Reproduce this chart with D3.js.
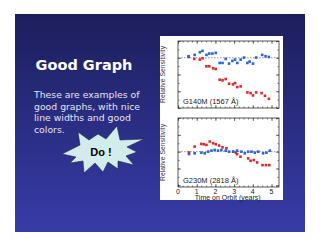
<!DOCTYPE html>
<html><head><meta charset="utf-8">
<script src="https://cdn.jsdelivr.net/npm/d3@7"></script>
<style>html,body{margin:0;padding:0;background:#fff;}svg{display:block;}</style>
</head><body>
<svg id="c" width="320" height="247"></svg>
<script>
// ---- data ----
const xTicks = [0, 1, 2, 3, 4, 5];
const topBlueX = [0.57,0.89,1.17,1.31,1.52,1.67,1.84,2.02,2.23,2.38,2.55,2.73,2.91,3.05,3.17,3.35,3.53,3.71,3.83,4.01,4.18,4.50,4.68,4.86];
const topBlueY = [1.0018,1.0034,1.0066,1.0082,1.0034,1.0050,1.0050,1.0058,0.9938,0.9938,0.9986,0.9930,0.9962,0.9978,0.9938,0.9978,1.0002,0.9938,0.9954,0.9930,1.0002,1.0034,1.0018,1.0010];
const topRedX = [0.57,0.87,1.17,1.31,1.52,1.67,1.88,2.02,2.23,2.38,2.55,2.73,2.94,3.05,3.17,3.35,3.71,3.88,4.01,4.18,4.47,4.65,4.86];
const topRedY = [1.0010,0.9986,0.9978,0.9994,0.9898,0.9898,0.9874,0.9866,0.9738,0.9730,0.9746,0.9690,0.9682,0.9698,0.9650,0.9658,0.9586,0.9578,0.9550,0.9586,0.9578,0.9546,0.9510];
const botBlueX = [0.59,0.89,1.25,1.43,1.61,1.79,1.96,2.14,2.32,2.55,2.73,2.95,3.16,3.39,3.57,3.75,3.93,4.11,4.29,4.55,4.73,4.91];
const botBlueY = [0.9972,0.9980,0.9988,0.9980,1.0000,1.0012,1.0020,1.0012,1.0020,1.0012,1.0000,1.0000,1.0012,1.0000,0.9980,1.0000,1.0000,0.9988,1.0000,0.9980,0.9988,1.0012];
const botRedX = [0.59,0.89,1.25,1.38,1.52,1.70,1.88,2.02,2.20,2.38,2.59,2.95,3.09,3.16,3.34,3.75,3.88,4.05,4.23,4.52,4.70,4.88];
const botRedY = [0.9990,1.0060,1.0092,1.0088,1.0080,1.0120,1.0100,1.0088,1.0072,1.0052,1.0040,1.0000,0.9988,0.9970,0.9940,0.9920,0.9892,0.9900,0.9872,0.9840,0.9840,0.9840];
const bodyLines = ["These are examples of", "good graphs, with nice", "line widths and good", "colors."];

const svg = d3.select("#c");
const defs = svg.append("defs");
const g = defs.append("linearGradient").attr("id","bg").attr("x1",0).attr("y1",0).attr("x2",0).attr("y2",1);
g.append("stop").attr("offset","0%").attr("stop-color","#1c1e5c");
g.append("stop").attr("offset","100%").attr("stop-color","#383ca8");

svg.append("rect").attr("x",15).attr("y",14).attr("width",290).attr("height",218).attr("fill","url(#bg)");

// title & body
svg.append("text").attr("x",84).attr("y",70).attr("text-anchor","middle")
  .attr("font-family","DejaVu Sans").attr("font-weight","bold").attr("font-size",14.5)
  .attr("fill","#fff").text("Good Graph");
svg.append("g").selectAll("text").data(bodyLines).join("text")
  .attr("x",34).attr("y",(d,i)=>98+i*11.5)
  .attr("font-family","DejaVu Sans").attr("font-size",9.3)
  .attr("fill","#e4e4f4").text(d=>d);

// starburst
const burst = [[62,154],[80,145],[78,132],[89,140],[98,134],[106,139],[117,126],[120,140],[144,139],[127,147],[137,152],[126,156],[134,165],[118,161],[118,169],[108,162],[103,172],[95,163],[84,173],[83,161],[70,163],[76,157]];
svg.append("polygon").attr("points",burst.map(p=>p.join(",")).join(" "))
  .attr("fill","#d2ecec").attr("stroke","#1a2a4a").attr("stroke-width",0.6);
svg.append("text").attr("x",101).attr("y",156).attr("text-anchor","middle")
  .attr("font-family","Liberation Sans").attr("font-weight","bold").attr("font-size",11)
  .attr("fill","#000").text("Do !");

// chart panel
svg.append("rect").attr("x",160).attr("y",36).attr("width",123).attr("height",164).attr("fill","#fff");

const x = d3.scaleLinear().domain([0,5.4]).range([178,279]);
const yTop = d3.scaleLinear().domain([0.94,1.02]).range([108,41]);
const yBot = d3.scaleLinear().domain([0.958,1.04]).range([187,118]);

function panel(y, bx, by, rx, ry, label, showX){
  const [y0,y1] = y.range();
  const gp = svg.append("g");
  const minorX = d3.range(0,5.41,0.25);
  const yMaj = d3.range(Math.ceil(y.domain()[0]/0.02)*0.02, y.domain()[1]+1e-9, 0.02);
  const yMin = d3.range(Math.ceil(y.domain()[0]/0.01)*0.01, y.domain()[1]+1e-9, 0.01);
  const mk = (axis, tr, ticks, size) => gp.append("g").attr("transform",tr)
      .call(axis.tickValues(ticks).tickSize(size).tickFormat(""))
      .call(s=>s.select(".domain").remove())
      .call(s=>s.selectAll("line").attr("stroke","#222").attr("stroke-width",0.6));
  mk(d3.axisBottom(x), `translate(0,${y0})`, xTicks, -3);
  mk(d3.axisBottom(x), `translate(0,${y0})`, minorX, -1.5);
  mk(d3.axisTop(x), `translate(0,${y1})`, xTicks, -3);
  mk(d3.axisTop(x), `translate(0,${y1})`, minorX, -1.5);
  mk(d3.axisLeft(y), `translate(${x.range()[0]},0)`, yMaj, -3);
  mk(d3.axisLeft(y), `translate(${x.range()[0]},0)`, yMin, -1.5);
  mk(d3.axisRight(y), `translate(${x.range()[1]},0)`, yMaj, -3);
  mk(d3.axisRight(y), `translate(${x.range()[1]},0)`, yMin, -1.5);
  gp.append("rect").attr("x",x.range()[0]).attr("y",y1).attr("width",x.range()[1]-x.range()[0]).attr("height",y0-y1)
    .attr("fill","none").attr("stroke","#333").attr("stroke-width",0.8);
  gp.append("line").attr("x1",x.range()[0]).attr("x2",x.range()[1]).attr("y1",y(1)).attr("y2",y(1))
    .attr("stroke","#666").attr("stroke-width",0.7).attr("stroke-dasharray","1.5,1.5");
  const s = 2.6;
  gp.append("g").selectAll("rect").data(rx.map((v,i)=>[v,ry[i]])).join("rect")
    .attr("x",d=>x(d[0])-s/2).attr("y",d=>y(d[1])-s/2).attr("width",s).attr("height",s).attr("fill","#e02828");
  gp.append("g").selectAll("rect").data(bx.map((v,i)=>[v,by[i]])).join("rect")
    .attr("x",d=>x(d[0])-s/2).attr("y",d=>y(d[1])-s/2).attr("width",s).attr("height",s).attr("fill","#2a62d8");
  gp.append("text").attr("x",183).attr("y",y0-4).attr("font-family","Liberation Sans").attr("font-size",7.5)
    .attr("fill","#222").text(label);
  gp.append("text").attr("transform",`translate(165,${(y0+y1)/2}) rotate(-90)`).attr("text-anchor","middle")
    .attr("font-family","Liberation Sans").attr("font-size",6.8).attr("fill","#333").text("Relative Sensitivity");
  if(showX){
    gp.append("g").selectAll("text").data(xTicks).join("text")
      .attr("x",d=>x(d)).attr("y",y0+6.5).attr("text-anchor","middle")
      .attr("font-family","Liberation Sans").attr("font-size",7).attr("fill","#222").text(d=>d);
    gp.append("text").attr("x",(x(0)+x(5))/2+3).attr("y",y0+12.5).attr("text-anchor","middle")
      .attr("font-family","Liberation Sans").attr("font-size",7).attr("fill","#222").text("Time on Orbit (years)");
  }
}
panel(yTop, topBlueX, topBlueY, topRedX, topRedY, "G140M (1567 Å)", false);
panel(yBot, botBlueX, botBlueY, botRedX, botRedY, "G230M (2818 Å)", true);
</script>
</body></html>
